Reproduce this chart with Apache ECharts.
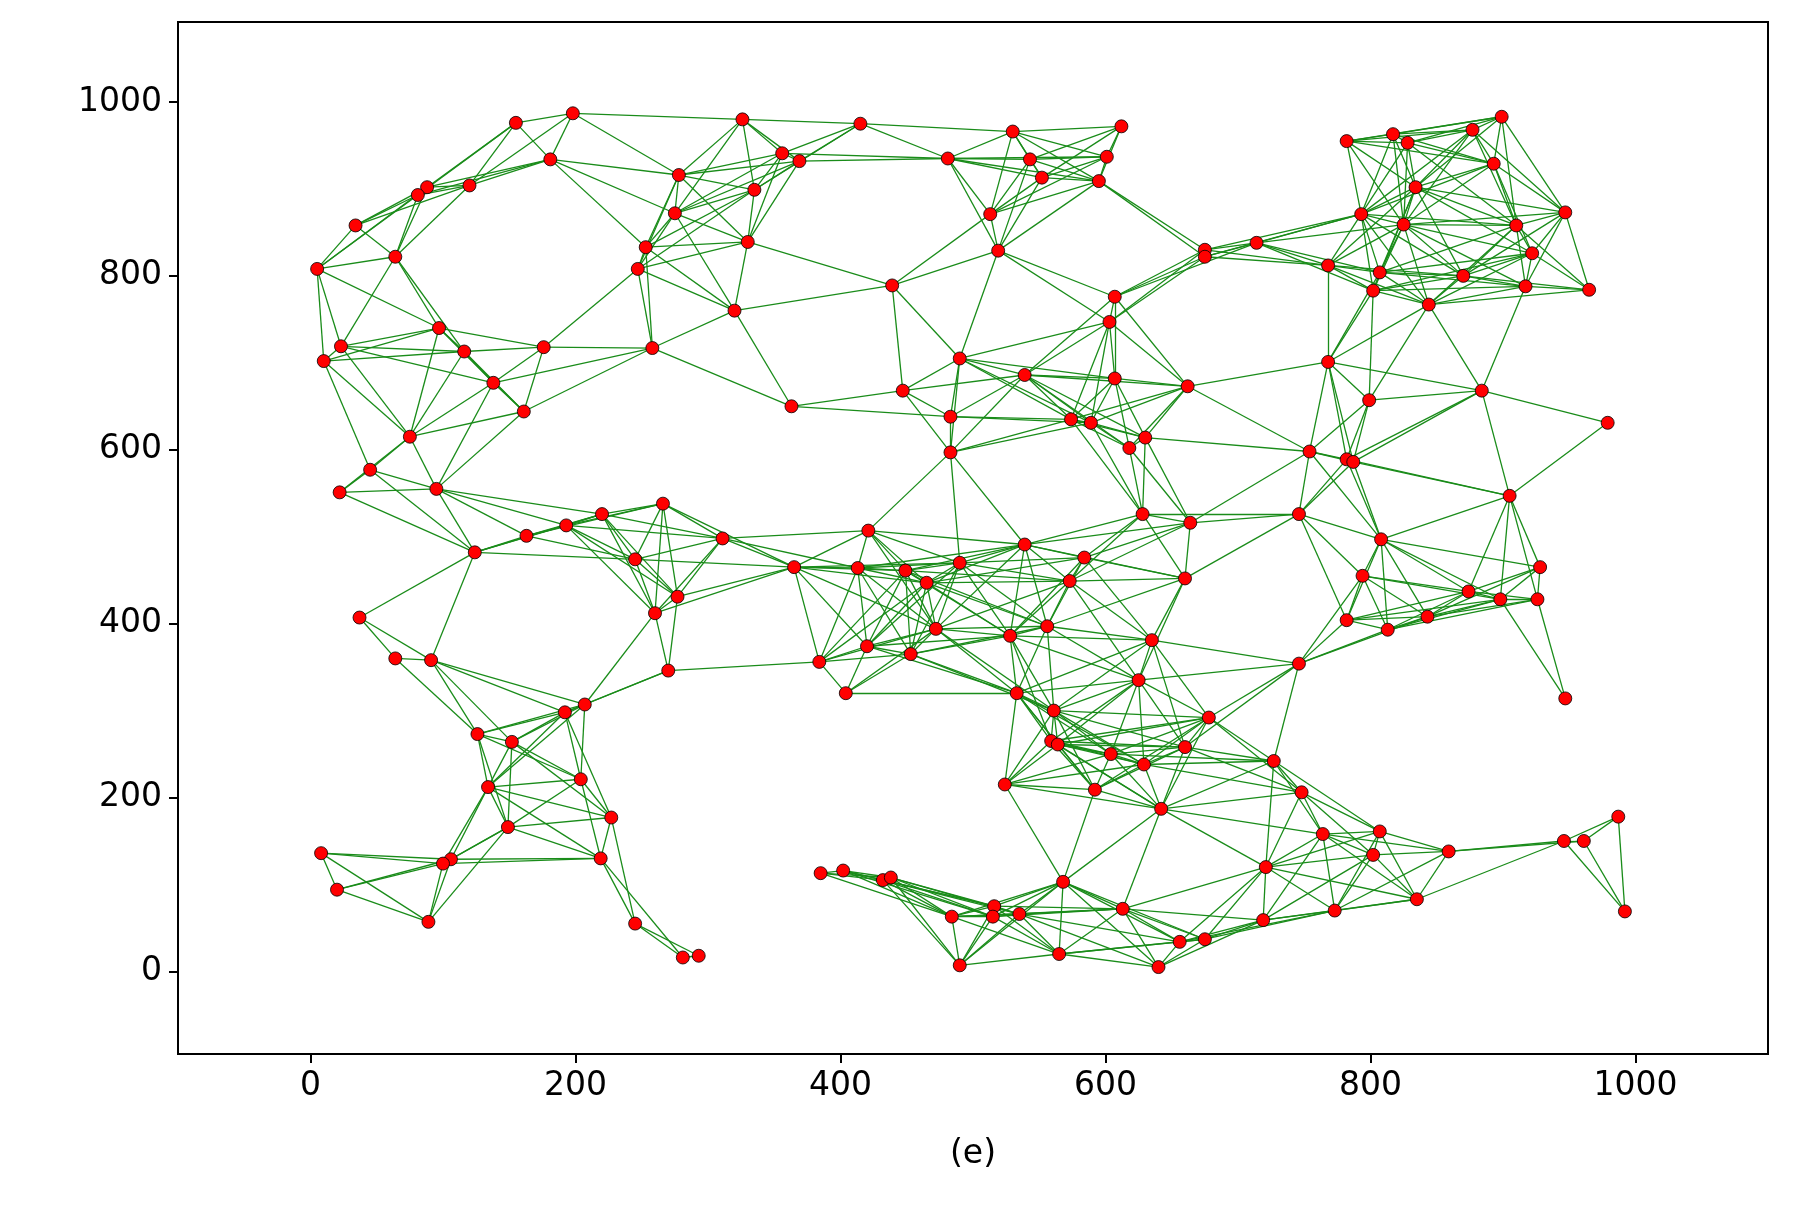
<!DOCTYPE html>
<html>
<head>
<meta charset="utf-8">
<script src="https://cdn.jsdelivr.net/npm/echarts@6/dist/echarts.min.js"></script>
<style>html,body{margin:0;background:#fff}#chart{width:1797px;height:1228px}</style>
</head>
<body>
<div id="chart"></div>
<script>
// node positions
var nodeX = [198,155,181,88,81,120,34,5,64,10,23,97,116,176,138,161,75,45,22,95,124,163,193,220,266,245,277,260,311,37,64,91,126,152,192,207,270,134,204,149,227,219,8,20,106,100,89,245,281,293,
  247,253,258,275,278,326,335,330,356,369,320,415,481,530,543,552,513,519,612,601,595,439,363,447,490,483,483,539,574,589,607,603,607,630,618,662,675,675,714,768,768,754,782,787,799,884,979,905,928,808,
  794,782,813,843,874,898,926,947,746,628,664,660,782,817,828,877,899,893,834,793,825,910,947,922,807,802,844,870,917,965,421,365,413,449,465,490,539,584,573,472,420,453,384,404,528,556,635,533,561,625,
  559,564,604,629,660,678,592,642,524,727,748,746,764,807,802,859,835,773,721,719,675,656,640,613,568,565,535,516,515,484,490,385,402,432,438,946,961,987,992];
var nodeY = [987,976,934,902,893,904,858,808,822,702,719,740,713,718,677,644,615,577,551,555,482,501,513,526,538,474,431,412,498,407,360,358,273,264,298,307,346,212,221,166,177,130,136,94,129,124,57,55,16,18,
  808,833,717,872,916,980,899,839,941,932,760,975,935,966,934,913,871,829,972,937,909,789,650,668,705,638,597,686,635,631,776,747,682,614,602,673,830,822,838,812,701,598,589,586,657,668,631,547,465,497,
  455,404,393,408,437,428,428,314,526,526,516,452,955,963,953,968,983,929,902,871,859,858,873,826,804,783,767,800,788,784,507,465,464,461,447,470,491,476,449,394,374,365,356,320,386,397,381,320,300,335,
  265,261,250,238,258,292,209,187,215,242,206,354,158,161,134,138,83,70,120,59,37,34,5,72,103,20,66,75,63,63,7,113,116,105,108,150,150,178,69];
var xTicks = [0, 200, 400, 600, 800, 1000];
var yTicks = [0, 200, 400, 600, 800, 1000];
var linkRadius = 130;

var nodes = nodeX.map(function(x, i){ return [x, nodeY[i]]; });
var links = [];
var seen = {};
function addLink(i, j){
  var k = Math.min(i,j) + '_' + Math.max(i,j);
  if (seen[k]) return;
  seen[k] = 1;
  links.push({source: i, target: j});
}
nodes.forEach(function(a, i){
  var near = [];
  nodes.forEach(function(b, j){
    if (i === j) return;
    var d = Math.hypot(a[0]-b[0], a[1]-b[1]);
    near.push([d, j]);
    if (d < linkRadius) addLink(i, j);
  });
  near.sort(function(p, q){ return p[0]-q[0]; });
  addLink(i, near[0][1]); addLink(i, near[1][1]);
});

var myChart = echarts.init(document.getElementById('chart'));
var axisLine = {show: true, onZero: false, lineStyle: {color: '#000', width: 2}};
var fmt = function(v){ return String(v); };
var option = {
  animation: false,
  grid: {left: 178, right: 29, top: 22, bottom: 174, show: true, borderColor: '#000', borderWidth: 2},
  xAxis: {
    type: 'value', min: -100, max: 1100,
    name: '(e)', nameLocation: 'middle', nameGap: 84,
    nameTextStyle: {fontSize: 33, color: '#000', fontFamily: 'DejaVu Sans'},
    axisLine: axisLine, splitLine: {show: false},
    axisTick: {customValues: xTicks, length: 9, lineStyle: {color: '#000', width: 2}},
    axisLabel: {customValues: xTicks, formatter: fmt, fontSize: 33, color: '#000', margin: 16, fontFamily: 'DejaVu Sans'}
  },
  yAxis: {
    type: 'value', min: -95, max: 1092,
    axisLine: axisLine, splitLine: {show: false},
    axisTick: {customValues: yTicks, length: 9, lineStyle: {color: '#000', width: 2}},
    axisLabel: {customValues: yTicks, formatter: fmt, fontSize: 33, color: '#000', margin: 16, fontFamily: 'DejaVu Sans'}
  },
  series: [{
    type: 'graph',
    coordinateSystem: 'cartesian2d',
    data: nodes,
    links: links,
    symbol: 'circle',
    symbolSize: 13,
    itemStyle: {color: '#ff0000', borderColor: '#000', borderWidth: 0.8},
    lineStyle: {color: '#1a8c1a', width: 1.3, opacity: 1},
    label: {show: false}
  }]
};
myChart.setOption(option);
</script>
</body>
</html>
